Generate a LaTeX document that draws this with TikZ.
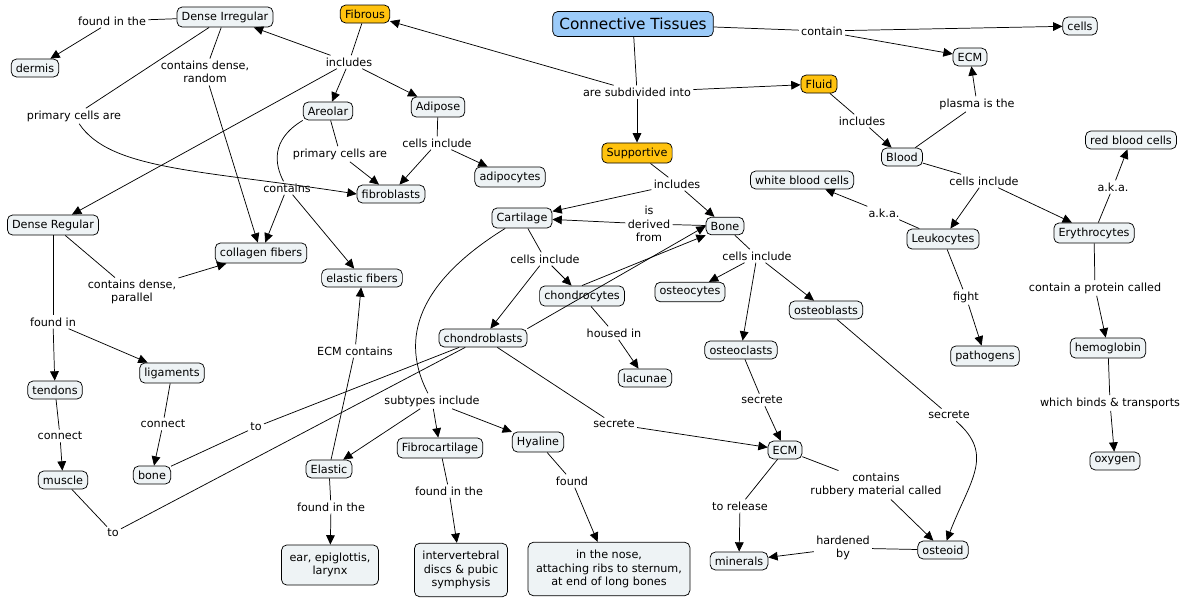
\documentclass[tikz,border=0pt]{standalone}
\usepackage{fontspec}
\setmainfont{DejaVu Sans}
\usetikzlibrary{arrows.meta}
\definecolor{cbox}{HTML}{EEF3F5}
\definecolor{cyell}{HTML}{FFC20E}
\definecolor{cblue}{HTML}{9CCBF9}
\begin{document}
\begin{tikzpicture}[
    x=0.75pt, y=-0.75pt,
    concept/.style={rectangle, draw, fill=cbox, rounded corners=4pt, inner sep=3.5pt, align=center, font=\fontsize{8.4}{10}\selectfont},
    group/.style={concept, fill=cyell},
    top/.style={concept, fill=cblue, inner sep=5pt, font=\fontsize{11.5}{13}\selectfont},
    phrase/.style={inner sep=1.5pt, align=center, font=\fontsize{8.4}{10}\selectfont},
    arr/.style={-{Triangle[length=7pt,width=6.5pt]}},
    every path/.style={line width=0.55pt}
]
\useasboundingbox (0,0) rectangle (1189,601);

% Concepts
\node[top] (ct) at (633,24) {Connective Tissues};
\node[group] (fibrous) at (365,14) {Fibrous};
\node[group] (fluid) at (819,84) {Fluid};
\node[group] (support) at (637,153) {Supportive};
\node[concept] (dirr) at (225,17) {Dense Irregular};
\node[concept] (dermis) at (35,68) {dermis};
\node[concept] (cells) at (1080,26) {cells};
\node[concept] (ecmtop) at (970,57) {ECM};
\node[concept] (areolar) at (328,111) {Areolar};
\node[concept] (adipose) at (438,107) {Adipose};
\node[concept] (blood) at (902,157) {Blood};
\node[concept] (rbc) at (1131,140) {red blood cells};
\node[concept] (wbc) at (802,180) {white blood cells};
\node[concept] (fibro) at (391,194) {fibroblasts};
\node[concept] (adipo) at (510,177) {adipocytes};
\node[concept] (cart) at (522,218) {Cartilage};
\node[concept] (bone) at (725,226) {Bone};
\node[concept] (dreg) at (53,225) {Dense Regular};
\node[concept] (leuko) at (943,239) {Leukocytes};
\node[concept] (eryth) at (1094,233) {Erythrocytes};
\node[concept] (collagen) at (261,253) {collagen fibers};
\node[concept] (elfib) at (362,278) {elastic fibers};
\node[concept] (chcyte) at (582,296) {chondrocytes};
\node[concept] (ostcyte) at (690,292) {osteocytes};
\node[concept] (ostblast) at (826,310) {osteoblasts};
\node[concept] (chblast) at (483,338) {chondroblasts};
\node[concept] (ostclast) at (741,350) {osteoclasts};
\node[concept] (patho) at (985,356) {pathogens};
\node[concept] (hemo) at (1108,348) {hemoglobin};
\node[concept] (ligam) at (172,373) {ligaments};
\node[concept] (lacunae) at (645,378) {lacunae};
\node[concept] (tendons) at (55,390) {tendons};
\node[concept] (bonel) at (152,475) {bone};
\node[concept] (muscle) at (63,480) {muscle};
\node[concept] (elastic) at (329,469) {Elastic};
\node[concept] (fibcart) at (440,448) {Fibrocartilage};
\node[concept] (hyaline) at (538,442) {Hyaline};
\node[concept] (ecmmid) at (785,450) {ECM};
\node[concept] (oxygen) at (1115,461) {oxygen};
\node[concept] (osteoid) at (943,550) {osteoid};
\node[concept] (minerals) at (739,561) {minerals};
\node[concept, inner sep=6pt] (ear) at (330,565) {ear, epiglottis,\\larynx};
\node[concept, inner sep=6pt] (disc) at (461,570) {intervertebral\\discs \& pubic\\symphysis};
\node[concept, inner sep=6pt] (nose) at (609,569) {in the nose,\\attaching ribs to sternum,\\at end of long bones};

% Linking phrases
\node[phrase] (lfoundA) at (112,21) {found in the};
\node[phrase] (lincA) at (349,62) {includes};
\node[phrase] (lcontR) at (205,72) {contains dense,\\random};
\node[phrase] (lprimA) at (74,116) {primary cells are};
\node[phrase] (lsub) at (637,92) {are subdivided into};
\node[phrase] (lcontain) at (822,31) {contain};
\node[phrase] (lplasma) at (977,104) {plasma is the};
\node[phrase] (lincB) at (862,121) {includes};
\node[phrase] (lprimB) at (340,154) {primary cells are};
\node[phrase] (lcellA) at (437,143) {cells include};
\node[phrase] (lcontains) at (287,188) {contains};
\node[phrase] (lincC) at (677,184) {includes};
\node[phrase] (lcellB) at (984,181) {cells include};
\node[phrase] (lakaA) at (1113,187) {a.k.a.};
\node[phrase] (lakaB) at (884,213) {a.k.a.};
\node[phrase] (lderiv) at (649,224) {is\\derived\\from};
\node[phrase] (lcellC) at (545,259) {cells include};
\node[phrase] (lcellD) at (757,256) {cells include};
\node[phrase] (lcontP) at (132,292) {contains dense,\\parallel};
\node[phrase] (lprot) at (1095,288) {contain a protein called};
\node[phrase] (lfight) at (966,297) {fight};
\node[phrase] (lfoundB) at (53,322) {found in};
\node[phrase] (lhoused) at (614,333) {housed in};
\node[phrase] (lecm) at (355,351) {ECM contains};
\node[phrase] (lconnA) at (163,424) {connect};
\node[phrase] (lconnB) at (60,436) {connect};
\node[phrase] (ltoA) at (256,427) {to};
\node[phrase] (lsubt) at (432,401) {subtypes include};
\node[phrase] (lsecA) at (614,424) {secrete};
\node[phrase] (lsecB) at (762,400) {secrete};
\node[phrase] (lsecC) at (949,415) {secrete};
\node[phrase] (lbinds) at (1110,403) {which binds \& transports};
\node[phrase] (lfoundC) at (331,507) {found in the};
\node[phrase] (lfoundD) at (449,491) {found in the};
\node[phrase] (lfoundE) at (572,481) {found};
\node[phrase] (lrub) at (876,485) {contains\\rubbery material called};
\node[phrase] (lrel) at (740,506) {to release};
\node[phrase] (lhard) at (843,548) {hardened\\by};
\node[phrase] (ltoB) at (113,533) {to};

% Connectors
\draw (dirr) -- (lfoundA);
\draw[arr] (lfoundA) -- (dermis);
\draw (dirr) -- (lprimA);
\draw[arr] (lprimA) .. controls (110,170) and (200,170) .. (fibro.west);
\draw (dirr) -- (lcontR);
\draw[arr] (lcontR) -- (collagen);
\draw (fibrous) -- (lincA);
\foreach \t in {dirr, areolar, adipose, dreg} \draw[arr] (lincA) -- (\t);
\draw (ct) -- (lsub);
\foreach \t in {fibrous, fluid, support} \draw[arr] (lsub) -- (\t);
\draw (ct) -- (lcontain);
\foreach \t in {cells, ecmtop} \draw[arr] (lcontain) -- (\t);
\draw (blood) -- (lplasma);
\draw[arr] (lplasma) -- (ecmtop);
\draw (fluid) -- (lincB);
\draw[arr] (lincB) -- (blood);
\draw (areolar) -- (lprimB);
\draw[arr] (lprimB) -- (fibro);
\draw (adipose) -- (lcellA);
\foreach \t in {fibro, adipo} \draw[arr] (lcellA) -- (\t);
\draw (areolar.south west) .. controls (270,140) and (275,165) .. (lcontains);
\foreach \t in {collagen, elfib} \draw[arr] (lcontains) -- (\t);
\draw (support) -- (lincC);
\foreach \t in {cart, bone} \draw[arr] (lincC) -- (\t);
\draw (blood) -- (lcellB);
\foreach \t in {leuko, eryth} \draw[arr] (lcellB) -- (\t);
\draw (eryth) -- (lakaA);
\draw[arr] (lakaA) -- (rbc);
\draw (leuko) -- (lakaB);
\draw[arr] (lakaB) -- (wbc);
\draw (bone) -- (lderiv);
\draw[arr] (lderiv) -- (cart);
\draw[arr] (chcyte.north) -- (bone.south west);
\draw[arr] (chblast.north east) -- (bone.west);
\draw (cart) -- (lcellC);
\foreach \t in {chcyte, chblast} \draw[arr] (lcellC) -- (\t);
\draw (bone) -- (lcellD);
\foreach \t in {ostcyte, ostclast, ostblast} \draw[arr] (lcellD) -- (\t);
\draw (dreg) -- (lcontP);
\draw[arr] (lcontP) -- (collagen);
\draw (eryth) -- (lprot);
\draw[arr] (lprot) -- (hemo);
\draw (leuko) -- (lfight);
\draw[arr] (lfight) -- (patho);
\draw (dreg) -- (lfoundB);
\foreach \t in {tendons, ligam} \draw[arr] (lfoundB) -- (\t);
\draw (chcyte) -- (lhoused);
\draw[arr] (lhoused) -- (lacunae);
\draw (elastic) -- (lecm);
\draw[arr] (lecm) -- (elfib);
\draw (ligam) -- (lconnA);
\draw[arr] (lconnA) -- (bonel);
\draw (tendons) -- (lconnB);
\draw[arr] (lconnB) -- (muscle);
\draw (chblast) -- (ltoA);
\draw (ltoA) -- (bonel);
\draw (muscle) -- (ltoB);
\draw (ltoB) -- (chblast);
\draw (cart) .. controls (430,275) and (395,330) .. (lsubt);
\foreach \t in {elastic, fibcart, hyaline} \draw[arr] (lsubt) -- (\t);
\draw (chblast) -- (lsecA);
\draw[arr] (lsecA) -- (ecmmid);
\draw (ostclast) -- (lsecB);
\draw[arr] (lsecB) -- (ecmmid);
\draw (ostblast) -- (lsecC);
\draw[arr] (lsecC) .. controls (995,455) and (970,480) .. (osteoid);
\draw (hemo) -- (lbinds);
\draw[arr] (lbinds) -- (oxygen);
\draw (elastic) -- (lfoundC);
\draw[arr] (lfoundC) -- (ear);
\draw (fibcart) -- (lfoundD);
\draw[arr] (lfoundD) -- (disc);
\draw (hyaline) -- (lfoundE);
\draw[arr] (lfoundE) -- (nose);
\draw (ecmmid) -- (lrub);
\draw[arr] (lrub) -- (osteoid);
\draw (ecmmid) -- (lrel);
\draw[arr] (lrel) -- (minerals);
\draw (osteoid) -- (lhard);
\draw[arr] (lhard) -- (minerals);

\end{tikzpicture}
\end{document}
